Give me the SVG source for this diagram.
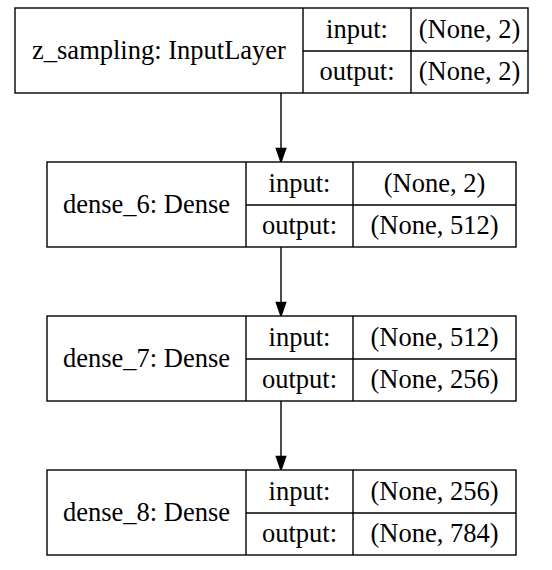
<svg xmlns="http://www.w3.org/2000/svg" width="552" height="570" viewBox="0 0 552 570">
<style>
.b{fill:#fff;stroke:#000;stroke-width:1.4}
.l{stroke:#000;stroke-width:1.4;fill:none}
.a{fill:#000;stroke:#000;stroke-width:1.4}
</style>
<rect width="552" height="570" fill="#fff"/>
<g id="connectors">
<path class="l" d="M281,93 V148.5"/><path class="a" d="M276.3,148.5 L285.7,148.5 L281,162 Z"/>
<path class="l" d="M281,247 V302.5"/><path class="a" d="M276.3,302.5 L285.7,302.5 L281,316 Z"/>
<path class="l" d="M281,401 V456.5"/><path class="a" d="M276.3,456.5 L285.7,456.5 L281,470 Z"/>
</g>
<g font-family="Liberation Serif, Times New Roman, serif" font-size="26.5" text-anchor="middle" fill="#000">
<g id="z_sampling">
<rect class="b" x="15" y="8" width="513" height="85"/>
<path class="l" d="M303,8 V93 M411,8 V93 M303,51 H528"/>
<text x="159" y="59">z_sampling: InputLayer</text>
<text x="357" y="38">input:</text>
<text x="357" y="80">output:</text>
<text x="469.5" y="38">(None, 2)</text>
<text x="469.5" y="80">(None, 2)</text>
</g>
<g id="dense_6">
<rect class="b" x="47" y="162" width="469" height="85"/>
<path class="l" d="M246,162 V247 M353,162 V247 M246,205 H516"/>
<text x="146.5" y="213">dense_6: Dense</text>
<text x="299.5" y="192">input:</text>
<text x="299.5" y="234">output:</text>
<text x="434.5" y="192">(None, 2)</text>
<text x="434.5" y="234">(None, 512)</text>
</g>
<g id="dense_7">
<rect class="b" x="47" y="316" width="469" height="85"/>
<path class="l" d="M246,316 V401 M353,316 V401 M246,359 H516"/>
<text x="146.5" y="367">dense_7: Dense</text>
<text x="299.5" y="346">input:</text>
<text x="299.5" y="388">output:</text>
<text x="434.5" y="346">(None, 512)</text>
<text x="434.5" y="388">(None, 256)</text>
</g>
<g id="dense_8">
<rect class="b" x="47" y="470" width="469" height="85"/>
<path class="l" d="M246,470 V555 M353,470 V555 M246,513 H516"/>
<text x="146.5" y="521">dense_8: Dense</text>
<text x="299.5" y="500">input:</text>
<text x="299.5" y="542">output:</text>
<text x="434.5" y="500">(None, 256)</text>
<text x="434.5" y="542">(None, 784)</text>
</g>
</g>
</svg>
